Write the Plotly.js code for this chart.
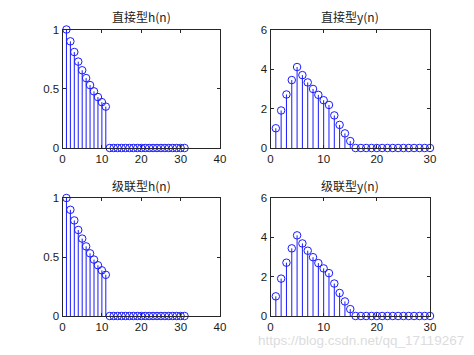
<!DOCTYPE html>
<html>
<head>
<meta charset="utf-8">
<script src="https://cdn.plot.ly/plotly-3.0.1.min.js"></script>
<style>html,body{margin:0;padding:0;background:#fff;}#chart{width:474px;height:355px;}</style>
</head>
<body>
<div id="chart"></div>
<script>
// h(n) samples, n = 1..31
const hN = [1,2,3,4,5,6,7,8,9,10,11,12,13,14,15,16,17,18,19,20,21,22,23,24,25,26,27,28,29,30,31];
const hDirect = [1,0.9,0.81,0.729,0.656,0.59,0.531,0.478,0.43,0.387,0.349,0,0,0,0,0,0,0,0,0,0,0,0,0,0,0,0,0,0,0,0];
const hCascade = [1,0.9,0.81,0.729,0.656,0.59,0.531,0.478,0.43,0.387,0.349,0,0,0,0,0,0,0,0,0,0,0,0,0,0,0,0,0,0,0,0];
// y(n) samples, n = 1..30
const yN = [1,2,3,4,5,6,7,8,9,10,11,12,13,14,15,16,17,18,19,20,21,22,23,24,25,26,27,28,29,30];
const yDirect = [1,1.9,2.71,3.44,4.1,3.69,3.32,2.99,2.69,2.42,2.18,1.65,1.17,0.74,0.35,0,0,0,0,0,0,0,0,0,0,0,0,0,0,0];
const yCascade = [1,1.9,2.71,3.44,4.1,3.69,3.32,2.99,2.69,2.42,2.18,1.65,1.17,0.74,0.35,0,0,0,0,0,0,0,0,0,0,0,0,0,0,0];
const titles = ['直接型h(n)','直接型y(n)','级联型h(n)','级联型y(n)'];
const hXTicks = [0,10,20,30,40];
const hYTicks = [0,0.5,1];
const yXTicks = [0,10,20,30];
const yYTicks = [0,2,4,6];

const blue = '#1a1aff';
function stems(xs, ys, xa, ya){
  const sx=[], sy=[];
  xs.forEach((x,i)=>{ sx.push(x,x,null); sy.push(0,ys[i],null); });
  return [
    {x:sx, y:sy, mode:'lines', type:'scatter', xaxis:xa, yaxis:ya, line:{color:blue,width:1}, hoverinfo:'skip', showlegend:false},
    {x:xs, y:ys, mode:'markers', type:'scatter', xaxis:xa, yaxis:ya, cliponaxis:false,
     marker:{symbol:'circle-open', size:7.5, color:blue, line:{color:blue,width:1}}, showlegend:false}
  ];
}
const data = [].concat(
  stems(hN, hDirect, 'x', 'y'),
  stems(yN, yDirect, 'x2', 'y2'),
  stems(hN, hCascade, 'x3', 'y3'),
  stems(yN, yCascade, 'x4', 'y4')
);
const W=474, H=355;
const L1=62.5, R1=220, L2=270.5, R2=430;
const T1=29.5, B1=148, T2=198, B2=316;
const tickfont = {family:'Arial, Liberation Sans, sans-serif', size:11.5, color:'#1a1a1a'};
function ax(domain, range, tickvals, anchor){
  return {domain:domain, range:range, tickvals:tickvals, ticktext:tickvals.map(String), anchor:anchor,
    showgrid:false, zeroline:false, showline:true, mirror:'ticks', linecolor:'#262626', linewidth:1,
    ticks:'inside', ticklen:3, tickcolor:'#262626', tickfont:tickfont, fixedrange:true};
}
const dx = v => v/W, dy = v => 1 - v/H;
const layout = {
  width:W, height:H, margin:{l:0,r:0,t:0,b:0}, paper_bgcolor:'#fff', plot_bgcolor:'#fff', showlegend:false,
  xaxis: ax([dx(L1),dx(R1)],[0,40],hXTicks,'y'),
  yaxis: ax([dy(B1),dy(T1)],[0,1],hYTicks,'x'),
  xaxis2: ax([dx(L2),dx(R2)],[0,30],yXTicks,'y2'),
  yaxis2: ax([dy(B1),dy(T1)],[0,6],yYTicks,'x2'),
  xaxis3: ax([dx(L1),dx(R1)],[0,40],hXTicks,'y3'),
  yaxis3: ax([dy(B2),dy(T2)],[0,1],hYTicks,'x3'),
  xaxis4: ax([dx(L2),dx(R2)],[0,30],yXTicks,'y4'),
  yaxis4: ax([dy(B2),dy(T2)],[0,6],yYTicks,'x4'),
  annotations: [
    {text:titles[0], x:(dx(L1)+dx(R1))/2, y:dy(T1)+0.006},
    {text:titles[1], x:(dx(L2)+dx(R2))/2, y:dy(T1)+0.006},
    {text:titles[2], x:(dx(L1)+dx(R1))/2, y:dy(T2)+0.006},
    {text:titles[3], x:(dx(L2)+dx(R2))/2, y:dy(T2)+0.006}
  ].map(a=>Object.assign(a,{xref:'paper',yref:'paper',xanchor:'center',yanchor:'bottom',showarrow:false,
    font:{family:'Noto Sans CJK SC, sans-serif', size:12, color:'#1a1a1a'}})).concat([
    {text:'https://blog.csdn.net/qq_17119267', xref:'paper', yref:'paper', x:dx(466), y:dy(340), xanchor:'right', yanchor:'middle',
     showarrow:false, font:{family:'Arial, Liberation Sans, sans-serif', size:13.5, color:'#dcdcdc'}}
  ])
};
Plotly.newPlot('chart', data, layout, {staticPlot:true, displayModeBar:false});
</script>
</body>
</html>
